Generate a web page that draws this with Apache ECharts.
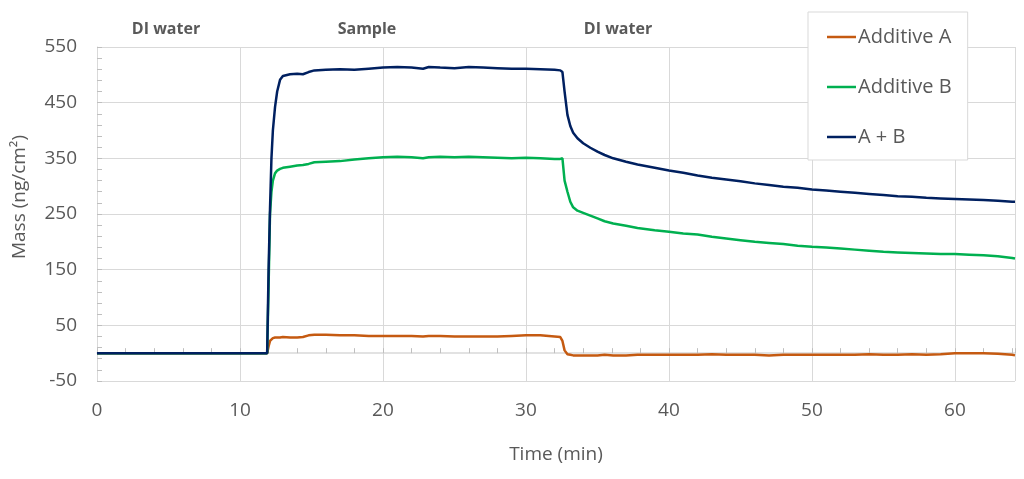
<!DOCTYPE html>
<html>
<head>
<meta charset="utf-8">
<script src="https://cdn.jsdelivr.net/npm/echarts@6/dist/echarts.min.js"></script>
<style>
  html, body { margin: 0; padding: 0; background: #fff; }
  #chart { width: 1024px; height: 479px; }
</style>
</head>
<body>
<div id="chart"></div>
<script>
// time points (min), shared by all three series
const times = [
  0, 11.9, 12.0, 12.1, 12.2, 12.3, 12.45, 12.6, 12.8, 13.0,
  13.5, 14.0, 14.4, 14.8, 15.2, 16, 17, 18, 19, 20,
  21, 22, 22.8, 23.2, 24, 25, 26, 27, 28, 29,
  30, 31, 32, 32.4, 32.55, 32.7, 32.9, 33.1, 33.3, 33.6,
  34.0, 34.5, 35.0, 35.5, 36.1, 37.0, 37.8, 39, 40, 41,
  42, 43, 44, 45, 46, 47, 48, 49, 50, 51,
  52, 53, 54, 55, 56, 57, 58, 59, 60, 61,
  62, 63, 64, 64.2
];

const additiveA = [
  0, 0, 12, 22, 25, 27, 28, 28, 28, 29,
  28, 28, 29, 32, 33, 33, 32, 32, 31, 31,
  31, 31, 30, 31, 31, 30, 30, 30, 30, 31,
  32, 32, 30, 29, 22, 5, -2, -3, -4, -4,
  -4, -4, -4, -3, -4, -4, -3, -3, -3, -3,
  -3, -2, -3, -3, -3, -4, -3, -3, -3, -3,
  -3, -3, -2, -3, -3, -2, -3, -2, 0, 0,
  0, -1, -3, -4
];

const additiveB = [
  0, 0, 120, 250, 290, 310, 323, 328, 331, 333,
  335, 337, 338, 340, 343, 344, 345, 348, 350, 352,
  353, 352, 350, 352, 353, 352, 353, 352, 351, 350,
  351, 350, 349, 349, 350, 310, 290, 272, 262, 256,
  252, 247, 242, 237, 233, 229, 225, 221, 218, 215,
  213, 209, 206, 203, 200, 198, 196, 193, 191, 190,
  188, 186, 184, 182, 181, 180, 179, 178, 178, 177,
  176, 174, 171, 170
];

const additiveAB = [
  0, 0, 150, 260, 350, 400, 442, 470, 491, 498,
  501, 502, 501, 505, 508, 509, 510, 509, 511, 513,
  514, 513, 511, 514, 513, 512, 514, 513, 512, 511,
  511, 510, 509, 508, 505, 470, 428, 408, 396, 386,
  377, 369, 362, 356, 350, 344, 339, 333, 328, 324,
  319, 315, 312, 309, 305, 302, 299, 297, 294, 292,
  290, 288, 286, 284, 282, 281, 279, 278, 277, 276,
  275, 274, 272, 272
];

const seriesNames = ['Additive A', 'Additive B', 'A + B'];
const seriesColors = ['#c55a11', '#00b050', '#002060'];
const phaseLabels = ['DI water', 'Sample', 'DI water'];
const phaseCenters = [166, 367, 618];

const pairs = vals => times.map((t, i) => [t, vals[i]]);
const textColor = '#595959';
const gridColor = '#d9d9d9';
const font = '"Open Sans", sans-serif';

const chart = echarts.init(document.getElementById('chart'));

chart.setOption({
  animation: false,
  backgroundColor: '#fff',
  textStyle: { fontFamily: font },
  grid: { left: 97, right: 9, top: 47, bottom: 98 },
  legend: {
    orient: 'vertical',
    left: 808,
    top: 12,
    padding: [15, 16, 13, 19],
    itemGap: 30,
    itemWidth: 29,
    itemHeight: 2.5,
    icon: 'rect',
    backgroundColor: '#fff',
    borderColor: gridColor,
    borderWidth: 1,
    textStyle: { color: textColor, fontSize: 20, lineHeight: 20, fontFamily: font, padding: [0, 0, 0, -3] },
    data: seriesNames
  },
  xAxis: [
    {
      type: 'value',
      min: 0,
      max: 64.2,
      interval: 10,
      name: 'Time (min)',
      nameLocation: 'middle',
      nameGap: 64,
      nameTextStyle: { color: textColor, fontSize: 19, fontFamily: font },
      axisLine: { show: false, onZero: false },
      axisTick: { show: false },
      axisLabel: {
        color: textColor, fontSize: 19, margin: 20, fontFamily: font,
        showMaxLabel: false
      },
      splitLine: { show: true, lineStyle: { color: gridColor, width: 1 } }
    },
    {
      type: 'value',
      position: 'bottom',
      min: 0,
      max: 64.2,
      interval: 10,
      axisLine: { show: true, onZero: true, lineStyle: { color: gridColor, width: 1.5 } },
      axisTick: { show: true, inside: true, length: 5, lineStyle: { color: '#bfbfbf' } },
      minorTick: { show: true, splitNumber: 5, length: 5, lineStyle: { color: '#bfbfbf' } },
      axisLabel: { show: false },
      splitLine: { show: false }
    }
  ],
  yAxis: {
    type: 'value',
    min: -50,
    max: 550,
    interval: 100,
    axisLine: { show: true, lineStyle: { color: gridColor, width: 1 } },
    axisTick: { show: true, inside: true, length: 5, lineStyle: { color: '#bfbfbf' } },
    minorTick: { show: true, splitNumber: 5, length: 5, lineStyle: { color: '#bfbfbf' } },
    axisLabel: { color: textColor, fontSize: 19, margin: 20, fontFamily: font },
    splitLine: { show: true, lineStyle: { color: gridColor, width: 1 } }
  },
  graphic: [
    {
      type: 'text',
      x: 20,
      y: 197,
      rotation: Math.PI / 2,
      style: {
        text: 'Mass (ng/cm²)',
        font: '19px ' + font,
        fill: textColor,
        align: 'center',
        verticalAlign: 'middle'
      }
    }
  ].concat(phaseLabels.map((label, i) => ({
    type: 'text',
    x: phaseCenters[i],
    y: 29,
    style: {
      text: label,
      font: 'bold 16px ' + font,
      fill: textColor,
      align: 'center',
      verticalAlign: 'middle'
    }
  }))),
  series: [additiveA, additiveB, additiveAB].map((vals, i) => ({
    name: seriesNames[i],
    type: 'line',
    xAxisIndex: 0,
    data: pairs(vals),
    symbol: 'none',
    smooth: false,
    color: seriesColors[i],
    lineStyle: { color: seriesColors[i], width: 2.5 },
    z: 2 + i
  }))
});
</script>
</body>
</html>
